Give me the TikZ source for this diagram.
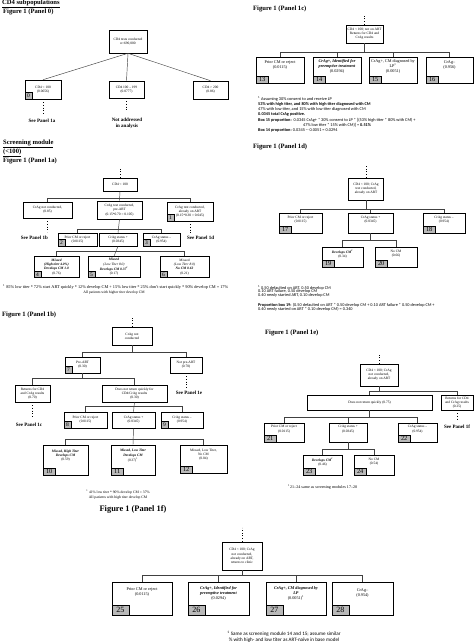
\documentclass[tikz,border=0pt]{standalone}
\usepackage{fontspec}
\setmainfont{Liberation Serif}
\newfontfamily\sansf{Carlito}
\usetikzlibrary{shadows}
\newcommand\bt{\fontsize{3.5}{4.2}\selectfont}
\newcommand\btl{\fontsize{4.2}{5}\selectfont}
\newcommand\fnr{\fontsize{3.7}{4.4}\selectfont}
\newcommand\fns{\sansf\fontsize{4.3}{4.9}\selectfont}
\newcommand\bi[1]{\textbf{\textit{#1}}}
\begin{document}
\begin{tikzpicture}[x=1pt,y=-1pt,
  box/.style={draw=black,line width=0.55pt,fill=white,align=center,inner sep=0.3pt,font=\bt,
    drop shadow={shadow xshift=0.5pt,shadow yshift=-0.5pt,fill=black!75,opacity=1}},
  sz/.style 2 args={minimum width=#1pt,minimum height=#2pt},
  num/.style={draw=black,line width=0.4pt,fill=gray!55,inner sep=0pt,anchor=south west,font=\fontsize{5.5}{5.5}\selectfont},
  numa/.style={num,minimum width=7pt,minimum height=6.5pt},
  numb/.style={num,minimum width=12.5pt,minimum height=7pt,font=\fontsize{6.3}{6.3}\selectfont},
  numf/.style={num,minimum width=17pt,minimum height=10pt,font=\fontsize{8}{8}\selectfont},
  conn/.style={draw=black!75,line width=0.45pt},
  dotl/.style={draw=black,line width=0.8pt,dotted},
  ttl/.style={anchor=west,inner sep=0pt,font=\bfseries\fontsize{6.6}{7}\selectfont},
  see/.style={inner sep=0pt,align=center,font=\bfseries\fontsize{5}{6}\selectfont},
  fn/.style={anchor=west,inner sep=0pt,align=left,font=\fnr},
  fs/.style={anchor=west,inner sep=0pt,align=left,font=\fns}]
\useasboundingbox (0,0) rectangle (474,643);
\fill[white] (0,0) rectangle (474,643);

% ---------------- Panel 0
\node[ttl] (t0a) at (2,3.5) {\underline{CD4 subpopulations}};
\node[ttl] (t0b) at (3,11.5) {Figure 1 (Panel 0)};
\node[box,sz={38}{23}] (p0r) at (128,41.5) {CD4 tests conducted\\ n=690,000};
\node[box,sz={36}{19}] (p0a) at (43,89.5) {CD4 < 100\\ (0.0656)};
\node[box,sz={35}{17}] (p0b) at (126.5,89.5) {CD4 100 -- 199\\ (0.0777)};
\node[box,sz={35}{18}] (p0c) at (210.5,90) {CD4 > 200\\ (0.86)};
\node[numa] (n0) at (p0a.south west) {0};
\draw[conn] (p0r.south) -- (p0a.north);
\draw[conn] (p0r.south) -- (p0b.north);
\draw[conn] (p0r.south) -- (p0c.north);
\draw[dotl] (p0a.south) -- ++(0,15);
\draw[dotl] (p0b.south) -- ++(0,13);
\node[see] (s0a) at (42,121) {See Panel 1a};
\node[see] (s0b) at (127,123) {Not addressed\\ in analysis};

% ---------------- Panel 1a
\node[ttl] (tsm) at (3,144) {\underline{Screening module}};
\node[ttl] (tsm2) at (3,152.5) {\underline{(<100)}};
\node[ttl] (t1a) at (3,160.5) {Figure 1 (Panel 1a)};
\node[box,sz={34}{13}] (a0) at (120,184.5) {CD4 < 100};
\draw[dotl] (a0.north) -- ++(0,-11);
\node[box,sz={49}{16}] (al) at (47.5,210) {CrAg not conducted,\\ (0.85)};
\node[box,sz={45}{18}] (am) at (119.5,210) {CrAg test conducted,\\ pre-ART\\ (0.15*0.70 = 0.105)};
\node[box,sz={46}{19}] (ar) at (190,211.5) {CrAg test conducted,\\ already on ART\\ (0.15*0.30 = 0.045)};
\node[numa] (n1) at (ar.south west) {1};
\coordinate (ba1) at (0,198);
\draw[conn] (al.north) |- (ar.north |- ba1) -- (ar.north);
\draw[conn] (a0.south) -- (am.north);
\draw[dotl] (al.south) -- ++(0,14);
\draw[dotl] (ar.south) -- ++(0,12);
\node[see,anchor=east] (s1b) at (48,238) {See Panel 1b};
\node[see,anchor=west] (s1d) at (187,238) {See Panel 1d};
\node[box,sz={39}{13}] (a2) at (77.5,239.5) {Prior CM or reject\\ (0.0115)};
\node[box,sz={38}{13}] (ap) at (118,239.5) {CrAg status +\\ (0.0345)};
\node[box,sz={37}{13}] (a3) at (161.5,239.5) {CrAg status --\\ (0.954)};
\node[numa] (n2) at (a2.south west) {2};
\node[numa] (n3) at (a3.south west) {3};
\coordinate (ba2) at (0,229);
\draw[conn] (a2.north) |- (a3.north |- ba2) -- (a3.north);
\draw[conn] (am.south) -- (ap.north);
\node[box,sz={45}{21}] (a4) at (56.5,267) {\bi{Missed}\\ \bi{(High titer 4.0\%)}\\ \bi{Develops CM 1.0}\\ (0.76)};
\node[box,sz={52}{21}] (a5) at (114,267) {\bi{Missed}\\ \textit{(Low Titer 8.0)}\\ \bi{Develops CM 0.37\textsuperscript{1}}\\ (0.17)};
\node[box,sz={49}{21}] (a6) at (184.5,267) {Missed\\ \textit{(Low Titer 8.0)}\\ \bi{No CM 0.63}\\ (0.21)};
\node[numa] (n4) at (a4.south west) {4};
\node[numa] (n5) at (a5.south west) {5};
\node[numa] (n6) at (a6.south west) {6};
\coordinate (ba3) at (0,251);
\draw[conn] (a4.north) |- (a6.north |- ba3) -- (a6.north);
\draw[conn] (ap.south) -- (a5.north);
\node[fn,font=\fontsize{4.3}{5}\selectfont] (fa1) at (3,286.5) {\textsuperscript{1} 85\% low titer * 72\% start ART quickly * 12\% develop CM + 15\% low titer * 25\% don't start quickly * 90\% develop CM = 17\%};
\node[fn,anchor=center] (fa2) at (114,292.5) {All patients with higher titer develop CM};

% ---------------- Panel 1b
\node[ttl] (t1b) at (2,315) {Figure 1 (Panel 1b)};
\node[box,sz={40}{18}] (b0) at (132,336) {CrAg not\\ conducted};
\draw[dotl] (b0.north) -- ++(0,-11);
\node[box,sz={35}{16}] (b7) at (82.5,365) {Pre-ART\\ (0.30)};
\node[box,sz={32}{16}] (bn) at (186,365) {Not pre-ART\\ (0.70)};
\node[numa] (n7) at (b7.south west) {7};
\coordinate (bb1) at (0,352);
\draw[conn] (b7.north) |- (bn.north |- bb1) -- (bn.north);
\draw[conn] (b0.south) -- (b0.south |- bb1);
\draw[dotl] (bn.south) -- ++(0,16);
\node[see] (s1e) at (189,392.5) {See Panel 1e};
\node[box,sz={35}{17}] (br) at (32.5,393.5) {Returns for CD4\\ and CrAg results\\ (0.70)};
\node[box,sz={65}{17}] (bd) at (134.5,393.5) {Does not return quickly for\\ CD4/CrAg results\\ (0.30)};
\coordinate (bb2) at (0,378.5);
\draw[conn] (br.north) |- (bd.north |- bb2) -- (bd.north);
\draw[conn] (b7.south) -- (b7.south |- bb2);
\draw[dotl] (br.south) -- ++(0,16);
\node[see] (s1c) at (29,425) {See Panel 1c};
\node[box,sz={43}{16}] (b8) at (85.5,420) {Prior CM or reject\\ (0.0115)};
\node[box,sz={43}{16}] (bp) at (133.5,420) {CrAg status +\\ (0.0345)};
\node[box,sz={42}{16}] (b9) at (182,420) {CrAg status --\\ (0.954)};
\node[numa] (n8) at (b8.south west) {8};
\node[numa] (n9) at (b9.south west) {9};
\coordinate (bb3) at (0,406.5);
\draw[conn] (b8.north) |- (b9.north |- bb3) -- (b9.north);
\draw[conn] (bd.south) -- (bp.north);
\node[box,sz={45}{30}] (b10) at (65.5,460) {\bi{Missed, High Titer}\\ \bi{Develops CM}\\ (0.59)\\[5pt]};
\node[box,sz={44}{30}] (b11) at (133,460) {\bi{Missed, Low Titer}\\ \bi{Develops CM}\\ (0.37)\textsuperscript{1}\\[5pt]};
\node[box,sz={47}{28}] (b12) at (203.5,459) {Missed, Low Titer,\\ No CM\\ (0.04)\\[5pt]};
\node[numb] (n10) at (b10.south west) {10};
\node[numb] (n11) at (b11.south west) {11};
\node[numb] (n12) at (b12.south west) {12};
\coordinate (bb4) at (0,439.5);
\draw[conn] (b10.north) |- (b12.north |- bb4) -- (b12.north);
\draw[conn] (bp.south) -- (b11.north);
\node[fn,anchor=center,align=center] (fb) at (118,494.5) {\textsuperscript{1} 41\% low titer * 90\% develop CM = 37\%\\ All patients with high titer develop CM};

% ---------------- Panel 1c
\node[ttl] (t1c) at (253,8.5) {Figure 1 (Panel 1c)};
\node[box,sz={37}{18}] (c0) at (364.5,34) {CD4 < 100; not on ART\\ Returns for CD4 and\\ CrAg results};
\draw[dotl] (c0.north) -- ++(0,-10);
\node[box,sz={48}{26},font=\btl] (c13) at (280,70) {Prior CM or reject\\ (0.0115)\\[5pt]};
\node[box,sz={48}{26},font=\btl] (c14) at (337,70) {\bi{CrAg+, Identified for}\\ \bi{preemptive treatment}\\ (0.0294)\\[3pt]};
\node[box,sz={48}{26},font=\btl] (c15) at (393,70) {CrAg+, CM diagnosed by\\ LP\textsuperscript{1}\\ (0.0051)\\[3pt]};
\node[box,sz={47}{26},font=\btl] (c16) at (449.5,70) {CrAg--\\ (0.956)\\[5pt]};
\node[numb] (n13) at (c13.south west) {13};
\node[numb] (n14) at (c14.south west) {14};
\node[numb] (n15) at (c15.south west) {15};
\node[numb] (n16) at (c16.south west) {16};
\coordinate (bc1) at (0,52);
\draw[conn] (c13.north) |- (c16.north |- bc1) -- (c16.north);
\draw[conn] (c0.south) -- (c0.south |- bc1);
\draw[conn] (c14.north) -- (c14.north |- bc1);
\draw[conn] (c15.north) -- (c15.north |- bc1);
\node[fs] (fc1) at (258,99) {\textsuperscript{1} Assuming 30\% consent to and receive LP};
\node[fs] (fc2) at (258,104) {\textbf{53\% with high titer, and 80\% with high titer diagnosed with CM}};
\node[fs] (fc3) at (258,109) {47\% with low titer, and 15\% with low titer diagnosed with CM};
\node[fs] (fc4) at (258,114) {\textbf{0.0345 total CrAg positive.}};
\node[fs] (fc5) at (258,120) {\textbf{Box 15 proportion:}\ \ 0.0345 CrAg+ * 30\% consent to LP * [(53\% high titer * 80\% with CM) +};
\node[fs] (fc6) at (303,125) {47\% low titer * 15\% with CM)] = \textbf{0.51\%}};
\node[fs] (fc7) at (258,130) {\textbf{Box 14 proportion:} 0.0345 -- 0.0051 = 0.0294};

% ---------------- Panel 1d
\node[ttl] (t1d) at (253,146.5) {Figure 1 (Panel 1d)};
\node[box,sz={35}{22}] (d0) at (366,189) {CD4 < 100; CrAg\\ test conducted,\\ already on ART};
\draw[dotl] (d0.north) -- ++(0,-13);
\node[box,sz={43}{20}] (d17) at (300.5,223) {Prior CM or reject\\ (0.0115)\\[3pt]};
\node[box,sz={45}{20}] (dp) at (370.5,223) {CrAg status +\\ (0.0345)\\[3pt]};
\node[box,sz={42}{20}] (d18) at (444,223) {CrAg status --\\ (0.954)\\[3pt]};
\node[numb] (n17) at (d17.south west) {17};
\node[numb] (n18) at (d18.south west) {18};
\coordinate (bd1) at (0,209);
\draw[conn] (d17.north) |- (d18.north |- bd1) -- (d18.north);
\draw[conn] (d0.south) -- (d0.south |- bd1);
\draw[conn] (dp.north) -- (dp.north |- bd1);
\node[box,sz={41}{20}] (d19) at (342.5,257) {\bi{Develops CM\textsuperscript{1}}\\ (0.34)\\[3pt]};
\node[box,sz={42}{20}] (d20) at (396,257) {No CM\\ (0.66)\\[3pt]};
\node[numb] (n19) at (d19.south west) {19};
\node[numb] (n20) at (d20.south west) {20};
\coordinate (bd2) at (0,240);
\draw[conn] (d19.north) |- (d20.north |- bd2) -- (d20.north);
\draw[conn] (dp.south) -- (dp.south |- bd2);
\node[fs] (fd1) at (258,287.5) {\textsuperscript{1} 0.50 defaulted on ART, 0.50 develop CM};
\node[fs] (fd2) at (258,291.5) {0.10 ART failure, 0.50 develop CM};
\node[fs] (fd3) at (258,295.5) {0.40 newly started ART, 0.10 develop CM};
\node[fs] (fd4) at (258,305) {\textbf{Proportion box 19:} (0.50 defaulted on ART * 0.50 develop CM + 0.10 ART failure * 0.50 develop CM +};
\node[fs] (fd5) at (258,309.5) {0.40 newly started on ART * 0.10 develop CM) = 0.340};

% ---------------- Panel 1e
\node[ttl] (t1e) at (265,332.5) {Figure 1 (Panel 1e)};
\node[box,sz={38}{22}] (e0) at (379,375) {CD4 < 100; CrAg\\ not conducted,\\ already on ART};
\draw[dotl] (e0.north) -- ++(0,-11);
\node[box,sz={125}{15}] (ed) at (369.5,402.5) {Does not return quickly (0.75)};
\node[box,sz={32}{15}] (er) at (457,402.5) {Returns for CD4\\ and CrAg results\\ (0.25)};
\coordinate (be1) at (0,391);
\draw[conn] (ed.north) |- (er.north |- be1) -- (er.north);
\draw[conn] (e0.south) -- (e0.south |- be1);
\draw[dotl] (er.south) -- ++(0,10);
\node[see] (s1f) at (457,426.5) {See Panel 1f};
\node[box,sz={40}{19}] (e21) at (284,432.5) {Prior CM or reject\\ (0.0115)\\[3pt]};
\node[box,sz={38}{19}] (ep) at (348,432.5) {CrAg status +\\ (0.0345)\\[3pt]};
\node[box,sz={39}{19}] (e22) at (417.5,432.5) {CrAg status --\\ (0.954)\\[3pt]};
\node[numb] (n21) at (e21.south west) {21};
\node[numb] (n22) at (e22.south west) {22};
\coordinate (be2) at (0,417);
\draw[conn] (e21.north) |- (e22.north |- be2) -- (e22.north);
\draw[conn] (ed.south) -- (ed.south |- be2);
\draw[conn] (ep.north) -- (ep.north |- be2);
\node[box,sz={39}{20}] (e23) at (322.5,465) {\bi{Develops CM\textsuperscript{1}}\\ (0.46)\\[3pt]};
\node[box,sz={40}{20}] (e24) at (374,465) {No CM\\ (0.54)\\[3pt]};
\node[numb] (n23) at (e23.south west) {23};
\node[numb] (n24) at (e24.south west) {24};
\coordinate (be3) at (0,449);
\draw[conn] (e23.north) |- (e24.north |- be3) -- (e24.north);
\draw[conn] (ep.south) -- (ep.south |- be3);
\node[fn,font=\fontsize{4.1}{5}\selectfont] (fe) at (288,487) {\textsuperscript{1}21--24 same as screening modules 17--20};

% ---------------- Panel 1f
\node[inner sep=0pt,font=\bfseries\fontsize{8.4}{9}\selectfont] (t1f) at (133,509.5) {Figure 1 (Panel 1f)};
\node[box,sz={40}{28}] (f0) at (242,556) {CD4 < 100; CrAg\\ not conducted,\\ already on ART,\\ returns to clinic};
\draw[dotl] (f0.north) -- ++(0,-14);
\node[box,sz={60}{33},font=\btl] (f25) at (142,598.5) {Prior CM or reject\\ (0.0115)\\[8pt]};
\node[box,sz={61}{33},font=\btl] (f26) at (218.5,598.5) {\bi{CrAg+, Identified for}\\ \bi{preemptive treatment}\\ (0.0294)\\[6pt]};
\node[box,sz={60}{33},font=\btl] (f27) at (296,598.5) {\bi{CrAg+, CM diagnosed by}\\ \bi{LP}\\ (0.0051)\textsuperscript{1}\\[6pt]};
\node[box,sz={61}{33},font=\btl] (f28) at (362.5,598.5) {CrAg--\\ (0.954)\\[6pt]};
\node[numf] (n25) at (f25.south west) {25};
\node[numf] (n26) at (f26.south west) {26};
\node[numf] (n27) at (f27.south west) {27};
\node[numf] (n28) at (f28.south west) {28};
\coordinate (bf1) at (0,575);
\draw[conn] (f25.north) |- (f28.north |- bf1) -- (f28.north);
\draw[conn] (f0.south) -- (f0.south |- bf1);
\draw[conn] (f26.north) -- (f26.north |- bf1);
\draw[conn] (f27.north) -- (f27.north |- bf1);
\node[fs,anchor=center,align=center,font=\sansf\fontsize{5.1}{6.2}\selectfont] (ff) at (284,636.5) {\textsuperscript{1} Same as screening module 14 and 15; assume similar\\ \% with high- and low titer as ART-na\"ive in base model};
\end{tikzpicture}
\end{document}
